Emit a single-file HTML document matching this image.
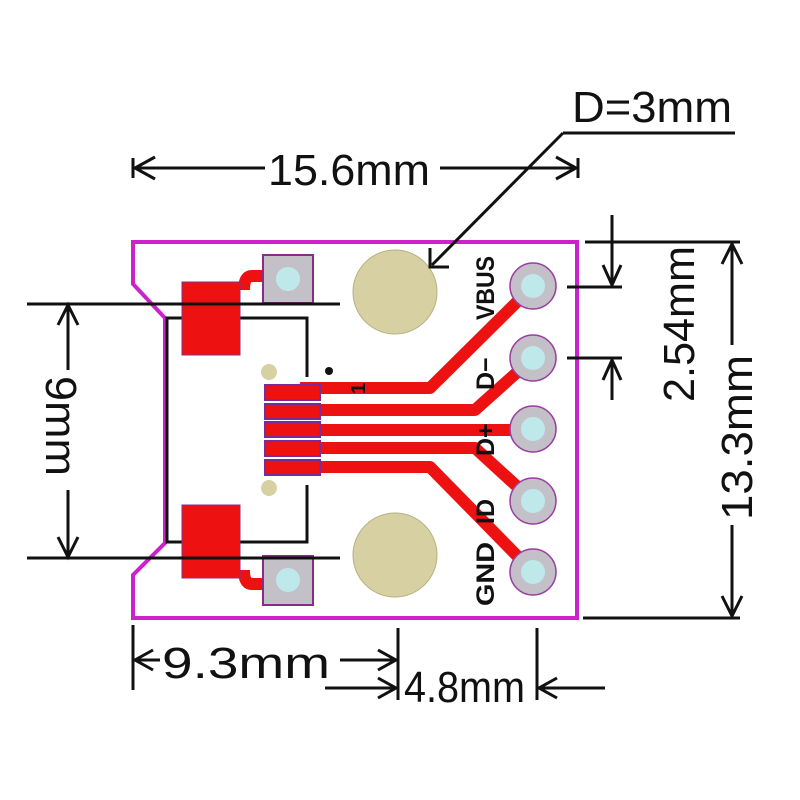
<!DOCTYPE html>
<html><head><meta charset="utf-8"><style>html,body{margin:0;padding:0;background:#fff}svg{display:block}</style></head>
<body>
<svg width="800" height="800" viewBox="0 0 800 800" xmlns="http://www.w3.org/2000/svg" font-family="'Liberation Sans','DejaVu Sans',sans-serif">
<rect width="800" height="800" fill="#fff"/>
<path d="M133,242 L577,242 L577,618 L133,618 L133,575 L165,543 L165,318 L133,284 Z" fill="#fff" stroke="#cc22cc" stroke-width="4"/>
<g stroke="#111" stroke-width="3" fill="none">
<path d="M243,318 L167,318 L167,542 L243,542"/>
<path d="M243,318 L307,318 L307,377"/>
<path d="M243,542 L307,542 L307,485"/>
</g>
<circle cx="395" cy="292" r="42" fill="#d6d0a2" stroke="#b8b080" stroke-width="1"/>
<circle cx="395" cy="555" r="42" fill="#d6d0a2" stroke="#b8b080" stroke-width="1"/>
<circle cx="269" cy="372" r="8" fill="#d6d0a2"/>
<circle cx="269" cy="488" r="8" fill="#d6d0a2"/>
<circle cx="329" cy="371" r="4" fill="#111"/>
<g stroke="#ee1111" stroke-width="12" fill="none" stroke-linejoin="round">
<path d="M262,276 L252,276 Q244,276 244,290"/>
<path d="M262,584 L252,584 Q244,584 244,570"/>
<path d="M300,388 L430,388 L533,286"/>
<path d="M300,410 L475,410 L533,358"/>
<path d="M300,430 L533,430"/>
<path d="M300,448 L475,448 L533,501"/>
<path d="M300,467 L430,467 L533,572"/>
</g>
<rect x="182" y="282" width="58" height="73" fill="#ee1111" stroke="#8a2a8a" stroke-width="1"/>
<rect x="182" y="505" width="58" height="73" fill="#ee1111" stroke="#8a2a8a" stroke-width="1"/>
<g fill="#ee1111" stroke="#7a2a9a" stroke-width="2">
<rect x="265" y="385" width="55" height="15"/>
<rect x="265" y="404" width="55" height="15"/>
<rect x="265" y="422" width="55" height="15"/>
<rect x="265" y="441" width="55" height="15"/>
<rect x="265" y="460" width="55" height="15"/>
</g>
<rect x="263" y="255" width="50" height="48" fill="#c4c0c8" stroke="#8a2a8a" stroke-width="2"/>
<circle cx="288" cy="279" r="12" fill="#bfe8ea"/>
<rect x="263" y="556" width="50" height="49" fill="#c4c0c8" stroke="#8a2a8a" stroke-width="2"/>
<circle cx="288" cy="580" r="12" fill="#bfe8ea"/>
<g stroke="#9a40a0" stroke-width="1.5">
<circle cx="533" cy="286" r="23" fill="#c4c0c8"/><circle cx="533" cy="286" r="12" fill="#bfe8ea" stroke="none"/>
<circle cx="533" cy="358" r="23" fill="#c4c0c8"/><circle cx="533" cy="358" r="12" fill="#bfe8ea" stroke="none"/>
<circle cx="533" cy="429" r="23" fill="#c4c0c8"/><circle cx="533" cy="429" r="12" fill="#bfe8ea" stroke="none"/>
<circle cx="533" cy="501" r="23" fill="#c4c0c8"/><circle cx="533" cy="501" r="12" fill="#bfe8ea" stroke="none"/>
<circle cx="533" cy="572" r="23" fill="#c4c0c8"/><circle cx="533" cy="572" r="12" fill="#bfe8ea" stroke="none"/>
</g>
<g font-size="25" font-weight="bold" fill="#111">
<text transform="translate(494,320) rotate(-90)" textLength="64" lengthAdjust="spacingAndGlyphs">VBUS</text>
<text transform="translate(494,390) rotate(-90)">D−</text>
<text transform="translate(494,456) rotate(-90)">D+</text>
<text transform="translate(494,524) rotate(-90)">ID</text>
<text transform="translate(494,606) rotate(-90)" textLength="64" lengthAdjust="spacingAndGlyphs">GND</text>
<text transform="translate(365,394) rotate(-90)" font-size="20">1</text>
</g>
<g stroke="#111" stroke-width="3" fill="none">
<path d="M133,168 L265,168 M440,168 L578,168 M133,158 L133,178 M578,158 L578,178"/>
<path d="M155,157 L135,168 L155,179 M556,157 L576,168 L556,179"/>
<path d="M563,133 L735,133 M563,133 L432,265 M430,248 L430,267 L449,267"/>
<path d="M27,304 L340,304 M27,558 L340,558 M68,304 L68,370 M68,490 L68,558"/>
<path d="M58,325 L68,305 L78,325 M58,537 L68,557 L78,537"/>
<path d="M585,242 L740,242 M583,618 L740,618 M567,287 L622,287 M567,358 L622,358"/>
<path d="M612,215 L612,285 M603,265 L612,285 L621,265 M612,360 L612,400 M603,380 L612,360 L621,380"/>
<path d="M732,244 L732,345 M732,525 L732,616 M722,264 L732,244 L742,264 M722,596 L732,616 L742,596"/>
<path d="M133,625 L133,690 M398,628 L398,700 M537,628 L537,700"/>
<path d="M133,660 L160,660 M340,660 L396,660 M153,650 L135,660 L153,670 M378,650 L396,660 L378,670"/>
<path d="M325,688 L396,688 M378,678 L396,688 L378,698 M539,688 L605,688 M557,678 L539,688 L557,698"/>
</g>
<g font-size="44" fill="#111">
<text x="268" y="185" textLength="162" lengthAdjust="spacingAndGlyphs">15.6mm</text>
<text x="572" y="122" textLength="160" lengthAdjust="spacingAndGlyphs">D=3mm</text>
<text x="162" y="678" textLength="168" lengthAdjust="spacingAndGlyphs">9.3mm</text>
<text x="404" y="702" textLength="121" lengthAdjust="spacingAndGlyphs">4.8mm</text>
<text transform="translate(46,376) rotate(90)" textLength="100" lengthAdjust="spacingAndGlyphs">9mm</text>
<text transform="translate(694,402) rotate(-90)" textLength="156" lengthAdjust="spacingAndGlyphs">2.54mm</text>
<text transform="translate(752,520) rotate(-90)" textLength="165" lengthAdjust="spacingAndGlyphs">13.3mm</text>
</g>
</svg>
</body></html>
